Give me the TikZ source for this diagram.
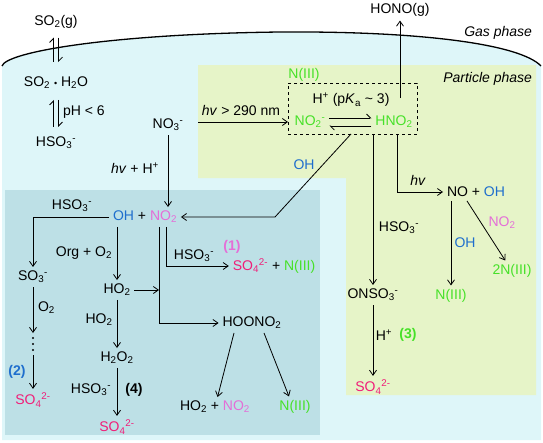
\documentclass[tikz,border=0pt]{standalone}
\usepackage{fontspec}
\setmainfont{Liberation Sans}
\usepackage{xcolor}
\usetikzlibrary{arrows.meta}

\definecolor{gasbg}{RGB}{222,246,249}
\definecolor{aqbg}{RGB}{189,224,230}
\definecolor{partbg}{RGB}{230,244,200}
\definecolor{ohblue}{RGB}{30,110,205}
\definecolor{notwo}{RGB}{228,110,215}
\definecolor{sulf}{RGB}{240,30,120}
\definecolor{niii}{RGB}{70,225,40}

\newcommand{\hsothree}{HSO\textsubscript{3}\textsuperscript{-}}
\newcommand{\sofour}{\textcolor{sulf}{SO\textsubscript{4}\textsuperscript{2-}}}

\begin{document}
\begin{tikzpicture}[x=1pt, y=-1pt, font=\fontsize{14}{16}\selectfont, line width=0.8pt,
  >={Straight Barb[length=5pt,width=7pt]},
  every node/.style={inner sep=1pt, outer sep=3pt},
  harp/.style={-{Straight Barb[left,length=4pt,width=8pt]}},
  lbl/.style={inner sep=0pt, outer sep=0pt}]
\useasboundingbox (0,0) rectangle (543,442);

\fill[gasbg] (2,440) -- (2,66) .. controls (6,52) and (110,34) .. (280,32) .. controls (420,31) and (520,44) .. (541,66) -- (541,440) -- cycle;
\draw[line width=1.3pt] (2,66) .. controls (6,52) and (110,34) .. (280,32) .. controls (420,31) and (520,44) .. (541,66);
\fill[partbg] (198,65) -- (536,65) -- (536,395) -- (346,395) -- (346,178) -- (198,178) -- cycle;
\fill[aqbg] (5,190) rectangle (320,435);

\node[anchor=east, lbl] (gas) at (532,33) {\textit{Gas phase}};
\node[anchor=east, lbl] (part) at (532,79) {\textit{Particle phase}};

\node (so2g) at (56,22) {SO\textsubscript{2}(g)};
\node (so2aq) at (56,83) {SO\textsubscript{2} {\small\textbullet} H\textsubscript{2}O};
\node (hso3a) at (56,143) {\hsothree};
\draw[harp, shorten <=11pt, shorten >=5pt] ([xshift=-2.5pt]so2aq.north) -- ([xshift=-2.5pt]so2g.south);
\draw[harp, shorten <=5pt, shorten >=11pt] ([xshift=2.5pt]so2g.south) -- ([xshift=2.5pt]so2aq.north);
\draw[harp, shorten <=6pt, shorten >=7pt] ([xshift=-2.5pt]hso3a.north) -- ([xshift=-2.5pt]so2aq.south);
\draw[harp, shorten <=7pt, shorten >=6pt] ([xshift=2.5pt]so2aq.south) -- ([xshift=2.5pt]hso3a.north);
\node[anchor=west, lbl] (ph) at (63,112) {pH < 6};

\node (no3) at (168,125) {NO\textsubscript{3}\textsuperscript{-}};
\node (ohno2) at (145,217) {\textcolor{ohblue}{OH} + \textcolor{notwo}{NO\textsubscript{2}}};
\draw[->] (no3) -- (no3 |- ohno2.north);
\node[lbl] (hvh) at (135,168) {\textit{hv} + H\textsuperscript{+}};

\node[draw, dashed, minimum width=129pt, minimum height=51pt, inner sep=0pt, outer sep=0pt] (nbox) at (352.5,108.5) {};
\node[lbl, text=niii] (boxlbl) at (304,75) {N(III)};
\coordinate (hvin) at (198,122);
\draw[->] (hvin) -- (hvin -| nbox.west);
\node[lbl] (hvlbl) at (241,110) {\textit{hv} > 290 nm};
\node (hpka) at (351,100) {H\textsuperscript{+} (p\textit{K}\textsubscript{a} \textasciitilde{} 3)};
\node[text=niii] (no2m) at (310,122) {NO\textsubscript{2}\textsuperscript{-}};
\node[text=niii] (hno2) at (394,122) {HNO\textsubscript{2}};
\draw[harp] ([yshift=4pt]no2m.east) -- ([yshift=4pt]hno2.west);
\draw[harp] ([yshift=-4pt]hno2.west) -- ([yshift=-4pt]no2m.east);

\node (hono) at (400,10) {HONO(g)};
\draw[->] ([xshift=6pt,yshift=14pt]hno2.north) -- (hono);

\coordinate (ohbend) at (275,217);
\draw[->] ([xshift=-1.5pt]nbox.south) -- (ohbend) -- (ohno2.east);
\node[lbl, text=ohblue] (ohlbl) at (304,165) {OH};

\node (onso3) at (373,295) {ONSO\textsubscript{3}\textsuperscript{-}};
\node (so4c) at (373,387) {\sofour};
\draw[->] (nbox.south -| onso3) -- (onso3);
\draw[->] (onso3) -- (so4c);
\node[lbl] (hsolbl1) at (399,228) {\hsothree};
\node[lbl] (hplbl) at (384,335) {H\textsuperscript{+}};
\node[lbl, text=niii] (r3) at (408,335) {\textbf{(3)}};

\node (nooh) at (476,192) {NO + \textcolor{ohblue}{OH}};
\draw[->] ([xshift=44.5pt]nbox.south) |- (nooh.west);
\node[lbl] (hvlbl2) at (418,180) {\textit{hv}};
\node[text=niii] (niii3) at (451,296) {N(III)};
\node[text=niii] (niii2) at (512,271) {2N(III)};
\draw[->] ([xshift=-25pt]nooh.south) -- (niii3);
\draw[->] ([xshift=-9pt]nooh.south) -- (niii2);
\node[lbl, text=ohblue] (ohlbl2) at (465,243) {OH};
\node[lbl, text=notwo] (no2lbl) at (502,223) {NO\textsubscript{2}};

\node (so3) at (33,277) {SO\textsubscript{3}\textsuperscript{-}};
\node[minimum width=4pt, minimum height=16pt, inner sep=0pt] (dots) at (33,344) {};
\foreach \dy in {-6,0,6}
  \fill ([yshift=\dy pt]dots.center) circle (1.1pt);
\node (so4a) at (33,400) {\sofour};
\draw[->] (ohno2.west) -| (so3);
\draw[->] (so3) -- (dots);
\draw[->] (dots) -- (so4a);
\node[lbl] (hsolbl2) at (72,206) {\hsothree};
\node[lbl, anchor=west] (o2lbl) at (38,308) {O\textsubscript{2}};
\node[lbl, text=ohblue] (r2) at (17,372) {\textbf{(2)}};

\node (ho2) at (117,290) {HO\textsubscript{2}};
\node (h2o2) at (117,358) {H\textsubscript{2}O\textsubscript{2}};
\node (so4b) at (117,427) {\sofour};
\draw[->] (ho2 |- ohno2.south) -- (ho2);
\draw[->] (ho2) -- (h2o2);
\draw[->] (h2o2) -- (so4b);
\node[lbl] (orglbl) at (84,253) {Org + O\textsubscript{2}};
\node[lbl] (ho2lbl) at (99,320) {HO\textsubscript{2}};
\node[lbl] (hsolbl4) at (91,390) {\hsothree};
\node[lbl] (r4) at (134,390) {\textbf{(4)}};

\node (hoono2) at (252,323) {HOONO\textsubscript{2}};
\node (sonii) at (274,266) {\sofour{} + \textcolor{niii}{N(III)}};
\coordinate (vbot) at (159,323);
\coordinate (sbend) at (166,266);
\draw[->] (ohno2.south -| vbot) -- (vbot) -- (hoono2);
\draw[->] (ho2) -- (ho2 -| vbot);
\draw[->] (ohno2.south -| sbend) -- (sbend) -- (sonii);
\node[lbl] (hsolbl3) at (194,256) {\hsothree};
\node[lbl, text=notwo] (r1) at (232,247) {\textbf{(1)}};

\node (ho2no2) at (215,407) {HO\textsubscript{2} + \textcolor{notwo}{NO\textsubscript{2}}};
\node[text=niii] (niii4) at (295,407) {N(III)};
\draw[->] ([xshift=-18pt]hoono2.south) -- (ho2no2);
\draw[->] ([xshift=12pt]hoono2.south) -- ([xshift=-6pt]niii4.north);
\end{tikzpicture}
\end{document}
